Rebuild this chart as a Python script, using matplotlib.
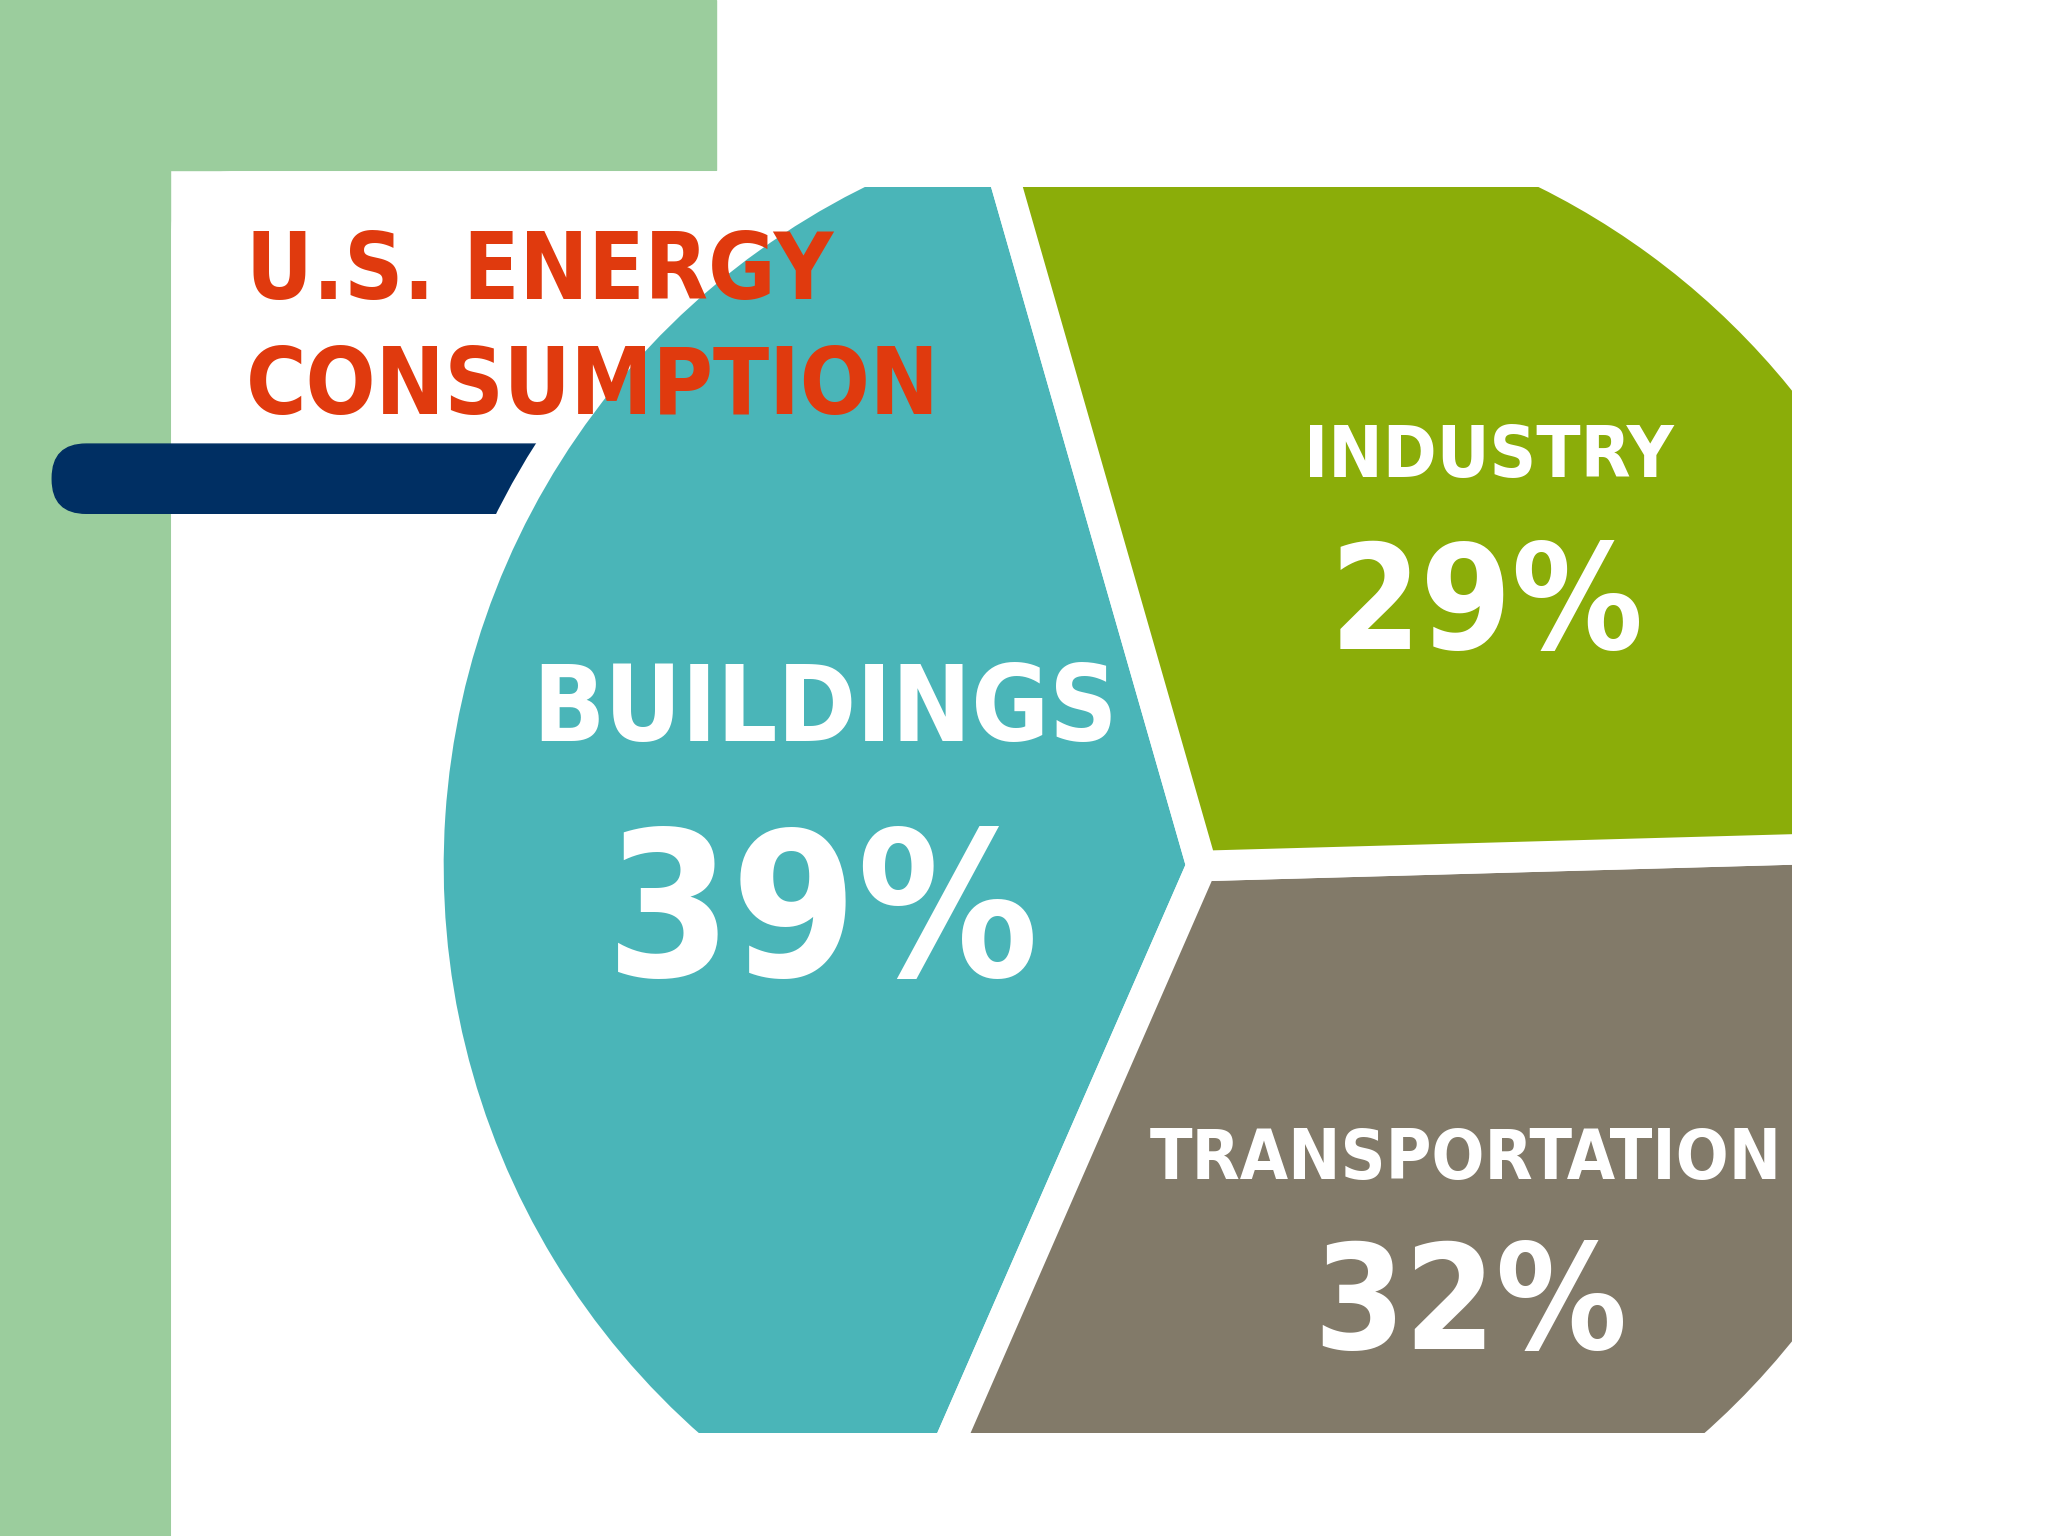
import matplotlib.pyplot as plt
from matplotlib.patches import FancyBboxPatch, Rectangle

# Data
sectors = ["BUILDINGS", "TRANSPORTATION", "INDUSTRY"]
shares = [39, 32, 29]
colors = ["#4AB5B8", "#827A69", "#8BAD09"]
title = "U.S. ENERGY\nCONSUMPTION"

W, H = 1568, 1176
fig = plt.figure(figsize=(20.48, 15.36), dpi=100)
ax = fig.add_axes([0, 0, 1, 1])

# background panels
ax.add_patch(Rectangle((0, 0), 130, H, color="#9BCD9D", zorder=0))
ax.add_patch(Rectangle((0, H - 130), 548, 130, color="#9BCD9D", zorder=0))
ax.add_patch(FancyBboxPatch((131, -100), 2000, H - 131 + 100,
                            boxstyle="round,pad=0,rounding_size=48",
                            facecolor="white", edgecolor="none", zorder=1))
ax.add_patch(FancyBboxPatch((40, H - 393), 830, 53,
                            boxstyle="round,pad=0,rounding_size=26",
                            color="#002F63", zorder=2))

# pie, clipped to a box
wedges, _ = ax.pie(shares, colors=colors, startangle=106, counterclock=True,
                   center=(920, 513), radius=592, frame=True,
                   wedgeprops=dict(edgecolor="white", linewidth=22))
ax.set_xlim(0, W)
ax.set_ylim(0, H)
ax.set_aspect("equal")
ax.axis("off")
clip = Rectangle((0, H - 1097), 1372, 1097 - 143, transform=ax.transData)
for w in wedges:
    w.set_zorder(3)
    w.set_clip_on(True)
    w.set_clip_path(clip)

# labels
lab = dict(color="white", family="DejaVu Sans", stretch="condensed",
           weight="bold", ha="center", va="center", zorder=5)
ax.text(632, H - 545, sectors[0], fontsize=76, **lab)
ax.text(630, H - 705, f"{shares[0]}%", fontsize=145, **lab)
ax.text(1122, H - 888, sectors[1], fontsize=50, **lab)
ax.text(1126, H - 1002, f"{shares[1]}%", fontsize=105, **lab)
ax.text(1140, H - 350, sectors[2], fontsize=52, **lab)
ax.text(1138, H - 466, f"{shares[2]}%", fontsize=105, **lab)

ax.text(188, H - 253, title, color="#E03A0E", family="DejaVu Sans",
        stretch="condensed", weight="bold", fontsize=66, ha="left",
        va="center", linespacing=1.35, zorder=6)

fig.savefig("out.png", dpi=100)
